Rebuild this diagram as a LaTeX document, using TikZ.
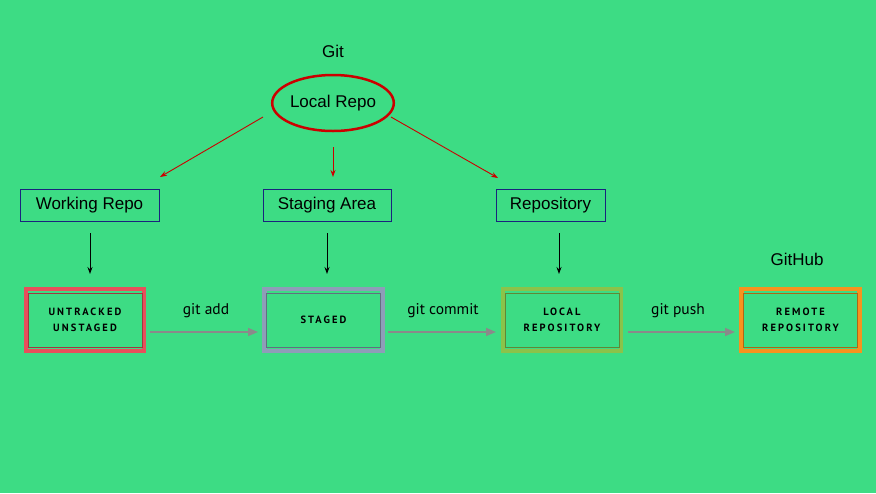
\documentclass[tikz,border=0pt]{standalone}
\usepackage{fontspec}
\setmainfont{Liberation Sans}
\newfontfamily\boxfont[LetterSpace=20]{PT Sans}
\newfontfamily\gitfont{PT Sans}
\definecolor{bg}{HTML}{3DDC84}
\definecolor{redc}{HTML}{CC0000}
\definecolor{bluec}{HTML}{1A237E}
\definecolor{c1}{HTML}{E8505B}
\definecolor{c2}{HTML}{8E9DB8}
\definecolor{c3}{HTML}{8BC34A}
\definecolor{c4}{HTML}{F7931E}
\definecolor{grayc}{HTML}{8A8A8A}
\usetikzlibrary{shapes.geometric,arrows.meta}
\begin{document}
\begin{tikzpicture}[x=1pt,y=-1pt,
  lab/.style={draw=bluec,line width=0.8pt,inner sep=0pt,font=\fontsize{17}{20}\selectfont},
  stage/.style={draw=#1,line width=4.5pt,minimum width=118pt,minimum height=62pt,inner sep=0pt,align=center,font=\boxfont\bfseries\fontsize{10.5}{16}\selectfont},
  inner/.style={draw=#1!70!black,line width=0.5pt},
  red/.style={-{Stealth[length=7pt,width=5pt]},draw=redc,line width=0.9pt},
  blk/.style={-{Stealth[length=7pt,width=5pt]},draw=black,line width=0.9pt},
  gr/.style={-{Triangle[length=10pt,width=8pt]},draw=grayc,line width=1.5pt},
  cmd/.style={font=\gitfont\fontsize{15.5}{18}\selectfont}]
\fill[bg] (0,0) rectangle (876,493);
\useasboundingbox (0,0) rectangle (876,493);
\node[font=\fontsize{17}{20}\selectfont] (git) at (333,51) {Git};
\node[draw=redc,line width=2.5pt,ellipse,minimum width=114pt,minimum height=56pt,inner sep=0pt,font=\fontsize{17}{20}\selectfont] (local) at (333,103) {Local Repo};
\node[lab,minimum width=139pt,minimum height=32pt] (wr) at (89.5,205) {Working Repo};
\node[lab,minimum width=128pt,minimum height=32pt] (sa) at (327,205) {Staging Area};
\node[lab,minimum width=109pt,minimum height=32pt] (rp) at (550.5,205) {Repository};
\node[font=\fontsize{17}{20}\selectfont] (gh) at (797,259) {GitHub};
\foreach \n/\x/\c/\t in {u/85/c1/{UNTRACKED\\UNSTAGED},s/323.5/c2/{STAGED},l/562/c3/{LOCAL\\REPOSITORY},r/800.5/c4/{REMOTE\\REPOSITORY}}{
  \node[stage=\c] (\n) at (\x,320) {\t};
  \draw[inner=\c] (\x-57,293) rectangle (\x+57,347);
}
\draw[red] (263,117) -- (160,177);
\draw[red] (333,147) -- (333,177);
\draw[red] (391,117) -- (498,178);
\draw[blk] (90,233) -- (90,274);
\draw[blk] (327,233) -- (327,274);
\draw[blk] (559,233) -- (559,274);
\draw[gr] (150,332) -- (258,332);
\draw[gr] (388,332) -- (496,332);
\draw[gr] (628,332) -- (735,332);
\node[cmd] at (206,311) {git add};
\node[cmd] at (443,311) {git commit};
\node[cmd] at (678,311) {git push};
\end{tikzpicture}
\end{document}
